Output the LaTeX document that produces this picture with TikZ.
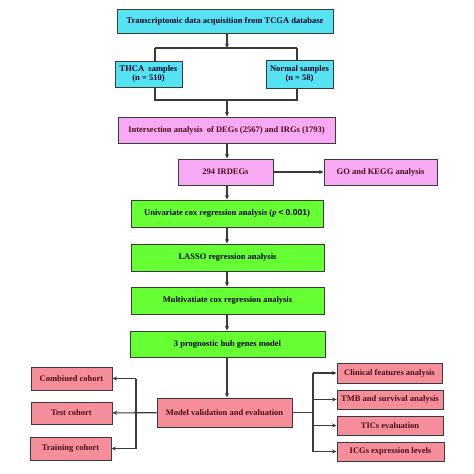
\documentclass[tikz,border=0pt]{standalone}
\usepackage{fontspec}
\setmainfont{Liberation Serif}
\newfontfamily\sansf{Liberation Sans}
\usetikzlibrary{arrows.meta}
\definecolor{cyanbox}{HTML}{55E3F2}
\definecolor{pinkbox}{HTML}{F8A9F4}
\definecolor{greenbox}{HTML}{66FF33}
\definecolor{salmonbox}{HTML}{F58E9A}
\definecolor{edgec}{HTML}{3A3A3A}
\definecolor{maroon}{HTML}{4A0F18}
\begin{document}
\begin{tikzpicture}[x=1pt,y=-1pt,
  box/.style={draw=edgec, line width=0.9pt, inner sep=1pt, align=center,
    font=\bfseries\fontsize{8.5}{9.8}\selectfont, text=black},
  cbox/.style={box, fill=cyanbox, text=black!85!blue},
  pbox/.style={box, fill=pinkbox, text=maroon},
  gbox/.style={box, fill=greenbox, text=black},
  sbox/.style={box, fill=salmonbox, text=maroon},
  conn/.style={draw=edgec, line width=1.1pt},
  arr/.style={conn, -{Stealth[length=4.5pt,width=4pt]}}]
\useasboundingbox[fill=white] (0,0) rectangle (474,474);
\node[cbox, minimum width=216pt, minimum height=24pt] (trans) at (225,21) {Transcriptomic data acquisition from TCGA database};
\node[cbox, minimum width=67pt, minimum height=26pt] (thca) at (148.5,74) {THCA\ \ samples\\(n = 510)};
\node[cbox, minimum width=67pt, minimum height=28pt] (norm) at (299.5,74) {Normal samples\\(n = 58)};
\node[pbox, minimum width=217pt, minimum height=26pt] (inter) at (226.5,130) {Intersection analysis\ \ of DEGs (2567) and IRGs (1793)};
\node[pbox, minimum width=95pt, minimum height=26pt] (irdeg) at (225.5,172) {294 IRDEGs};
\node[pbox, minimum width=113pt, minimum height=26pt] (go) at (380.5,172) {GO and KEGG analysis};
\node[gbox, minimum width=192pt, minimum height=27pt] (uni) at (227,213.5) {Univariate cox regression analysis ({\itshape p} {\sansf <} {\sansf 0.001})};
\node[gbox, minimum width=193pt, minimum height=27pt] (lasso) at (227.5,257.5) {LASSO regression analysis};
\node[gbox, minimum width=193pt, minimum height=27pt] (multi) at (227.5,300.5) {Multivatiate cox regression analysis};
\node[gbox, minimum width=195pt, minimum height=26pt] (prog) at (227.5,344) {3 prognostic hub genes model};
\node[sbox, minimum width=135pt, minimum height=29pt] (model) at (224.5,412.5) {Model validation and evaluation};
\node[sbox, minimum width=81pt, minimum height=23pt] (comb) at (71.5,378.5) {Combined cohort};
\node[sbox, minimum width=81pt, minimum height=22pt] (test) at (71.5,413) {Test cohort};
\node[sbox, minimum width=81pt, minimum height=23pt] (train) at (70.5,448.5) {Training cohort};
\node[sbox, minimum width=105pt, minimum height=20pt] (clin) at (389.5,373) {Clinical features analysis};
\node[sbox, minimum width=106pt, minimum height=19pt] (tmb) at (390,399.5) {TMB and survival analysis};
\node[sbox, minimum width=106pt, minimum height=19pt] (tics) at (390,425.5) {TICs evaluation};
\node[sbox, minimum width=107pt, minimum height=19pt] (icgs) at (390.5,451.5) {ICGs expression levels};
% top split
\coordinate (j1) at (227,48);
\coordinate (j1l) at (155,48);
\coordinate (j1r) at (297,48);
\draw[arr] (trans.south -| j1) -- (j1);
\draw[conn] (j1l) -- (j1r);
\draw[conn] (j1l) -- (j1l |- thca.north);
\draw[conn] (j1r) -- (j1r |- norm.north);
% merge
\coordinate (j2) at (227,100);
\coordinate (j2l) at (155,100);
\coordinate (j2r) at (297,100);
\draw[conn] (j2l |- thca.south) -- (j2l) -- (j2r) -- (j2r |- norm.south);
\draw[arr] (j2) -- (j2 |- inter.north);
\draw[arr] (inter.south -| j2) -- (j2 |- irdeg.north);
\draw[arr] (irdeg) -- (go);
\draw[arr] (irdeg.south -| j2) -- (j2 |- uni.north);
\draw[arr] (uni.south -| j2) -- (j2 |- lasso.north);
\draw[arr] (lasso.south -| j2) -- (j2 |- multi.north);
\draw[arr] (multi.south -| j2) -- (j2 |- prog.north);
\draw[arr] (prog.south -| j2) -- (j2 |- model.north);
% left
\coordinate (vl) at (136,413);
\draw[arr] (model) -- (test);
\draw[conn] (vl |- comb) -- (vl |- train);
\draw[arr] (vl |- comb) -- (comb);
\draw[arr] (vl |- train) -- (train);
% right
\coordinate (vr) at (313,412.5);
\draw[conn] (model.east) -- (vr);
\draw[conn] (vr |- clin) -- (vr |- icgs);
\draw[arr] (vr |- clin) -- (clin);
\draw[arr] (vr |- tmb) -- (tmb);
\draw[arr] (vr |- tics) -- (tics);
\draw[arr] (vr |- icgs) -- (icgs);
\end{tikzpicture}
\end{document}
